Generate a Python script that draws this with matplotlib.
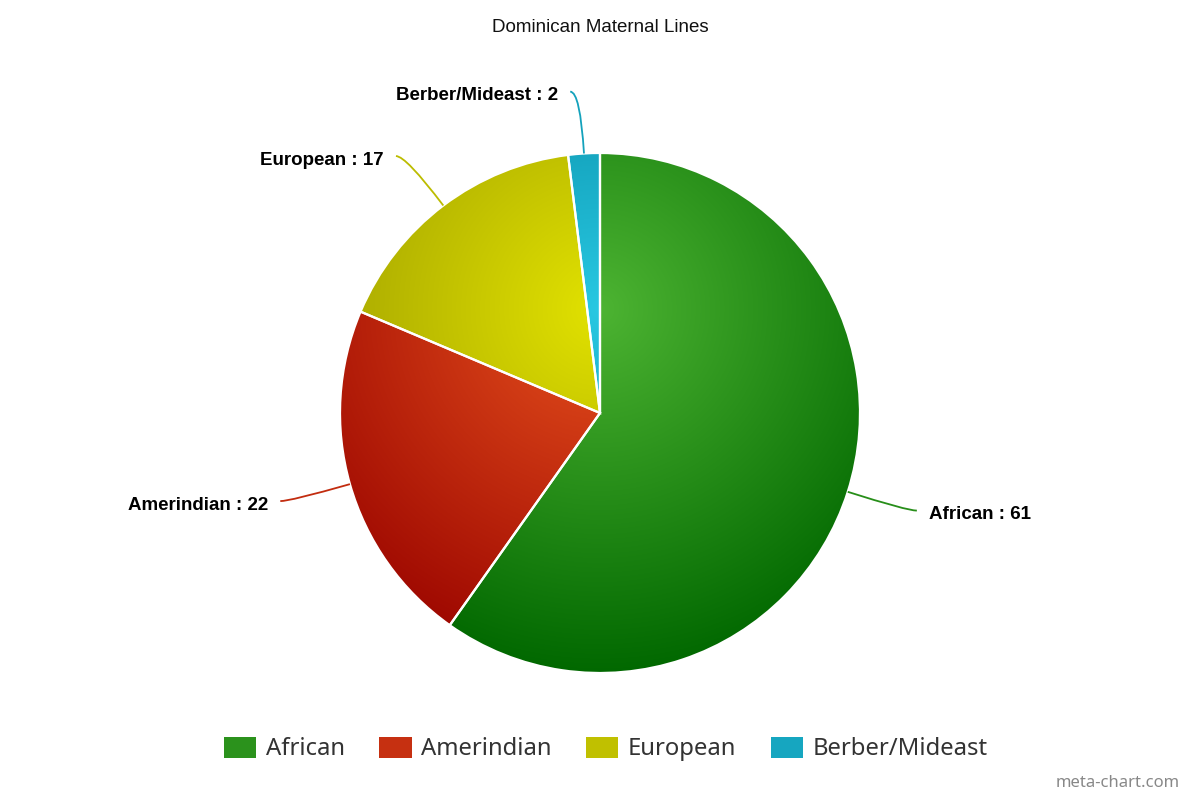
import numpy as np
import matplotlib
matplotlib.use("Agg")
import matplotlib.pyplot as plt
from matplotlib.patches import Patch
from matplotlib.path import Path
from matplotlib.patches import PathPatch

# data
categories = ["African", "Amerindian", "European", "Berber/Mideast"]
values = [61, 22, 17, 2]
title = "Dominican Maternal Lines"

# light (gradient centre) and dark (edge) colours for each slice
light_cols = [(77, 180, 50), (232, 82, 30), (226, 226, 0), (40, 200, 226)]
dark_cols = [(1, 104, 0), (156, 6, 0), (150, 150, 0), (0, 124, 150)]

W, H = 1200, 800
fig = plt.figure(figsize=(12, 8), dpi=100)
ax = fig.add_axes([0, 0, 1, 1])

cx, cy, R = 600, H - 413, 260
wedges, _ = ax.pie(values, startangle=90, counterclock=False,
                   center=(cx, cy), radius=R,
                   wedgeprops=dict(edgecolor="white", linewidth=1.6, facecolor="none"))
ax.set_xlim(0, W)
ax.set_ylim(0, H)
ax.set_aspect("equal")
ax.axis("off")

# radial gradient, focal point a bit above the centre
gx, gy = np.meshgrid(np.arange(W) + 0.5, np.arange(H) + 0.5)
fx, fy = cx, cy + 0.2 * 2 * R
t = np.clip(np.hypot(gx - fx, gy - fy) / (0.7 * 2 * R), 0, 1)[..., None]

for w, lc, dc in zip(wedges, light_cols, dark_cols):
    lc = np.array(lc) / 255.0
    dc = np.array(dc) / 255.0
    img = lc * (1 - t) + dc * t
    im = ax.imshow(img, extent=(0, W, 0, H), origin="lower", zorder=1,
                   interpolation="bilinear")
    im.set_clip_path(w)
    w.set_zorder(2)

# data labels with connectors
total = float(sum(values))
start = 90.0
for w, name, v, dc, lc in zip(wedges, categories, values, dark_cols, light_cols):
    ext = 360.0 * v / total
    mid = np.deg2rad(start - ext / 2)
    start -= ext
    d = np.array([np.cos(mid), np.sin(mid)])
    p0 = np.array([cx, cy]) + R * d
    p1 = np.array([cx, cy]) + (R + 62) * d
    side = 1 if d[0] >= 0 else -1
    p2 = p1 + np.array([side * 10, 0])
    col = tuple((np.array(lc) * 0.5 + np.array(dc) * 0.5) / 255.0)
    path = Path([p0, p1, p2], [Path.MOVETO, Path.CURVE3, Path.CURVE3])
    ax.add_patch(PathPatch(path, facecolor="none", edgecolor=col, lw=1.3, zorder=3))
    ax.text(p2[0] + side * 12, p2[1] - 4, f"{name} : {v}", ha="left" if side > 0 else "right",
            va="center", fontsize=13.5, fontweight="bold", family="Liberation Sans",
            color="black", zorder=4)

fig.text(0.5, 1 - 27 / H, title, ha="center", va="center", fontsize=13.5,
         family="Liberation Sans", color="#111111")

handles = [Patch(facecolor=tuple((np.array(l) * 0.55 + np.array(d) * 0.45) / 255.0),
                 edgecolor="none") for l, d in zip(light_cols, dark_cols)]
fig.legend(handles, categories, ncol=4, loc="center", bbox_to_anchor=(0.505, 1 - 749 / H),
           frameon=False, prop=dict(family="Noto Sans", size=17.2),
           handlelength=1.34, handleheight=1.0, handletextpad=0.41,
           columnspacing=1.44, labelcolor="#333333")

fig.text(1180 / W, 1 - 783 / H, "meta-chart.com", ha="right", va="center",
         fontsize=12, family="Noto Sans", color="#888888")

fig.savefig("out.png", dpi=100)
